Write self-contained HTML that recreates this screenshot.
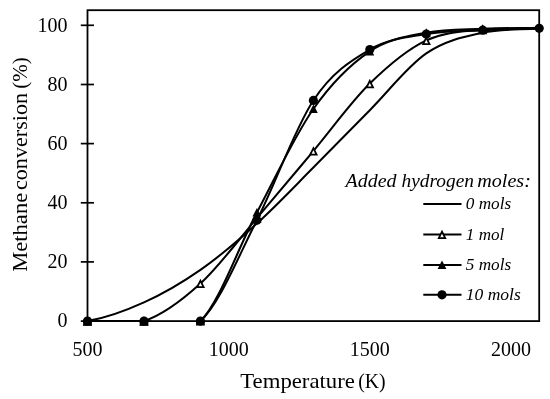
<!DOCTYPE html>
<html><head><meta charset="utf-8"><title>Methane conversion</title>
<style>
html,body{margin:0;padding:0;background:#fff;}
svg{display:block;}
text{font-family:"Liberation Serif",serif;fill:#000;}
.t{font-size:20.8px;}
.ax{font-size:20.4px;}
.lg{font-size:17.5px;font-style:italic;}
.lt{font-size:19.5px;font-style:italic;}
</style></head><body>
<svg width="550" height="399" viewBox="0 0 550 399">
<rect x="0" y="0" width="550" height="399" fill="#fff"/>
<rect x="87.5" y="10.2" width="451.7" height="310.9" fill="none" stroke="#000" stroke-width="1.8"/>
<line x1="80.8" x2="94" y1="321.1" y2="321.1" stroke="#000" stroke-width="1.7"/>
<text class="t" x="67.6" y="327.4" text-anchor="end" textLength="10.0" lengthAdjust="spacingAndGlyphs">0</text>
<line x1="80.8" x2="94" y1="261.9" y2="261.9" stroke="#000" stroke-width="1.7"/>
<text class="t" x="67.6" y="268.2" text-anchor="end" textLength="20.0" lengthAdjust="spacingAndGlyphs">20</text>
<line x1="80.8" x2="94" y1="202.8" y2="202.8" stroke="#000" stroke-width="1.7"/>
<text class="t" x="67.6" y="209.1" text-anchor="end" textLength="20.0" lengthAdjust="spacingAndGlyphs">40</text>
<line x1="80.8" x2="94" y1="143.6" y2="143.6" stroke="#000" stroke-width="1.7"/>
<text class="t" x="67.6" y="149.9" text-anchor="end" textLength="20.0" lengthAdjust="spacingAndGlyphs">60</text>
<line x1="80.8" x2="94" y1="84.5" y2="84.5" stroke="#000" stroke-width="1.7"/>
<text class="t" x="67.6" y="90.8" text-anchor="end" textLength="20.0" lengthAdjust="spacingAndGlyphs">80</text>
<line x1="80.8" x2="94" y1="25.3" y2="25.3" stroke="#000" stroke-width="1.7"/>
<text class="t" x="67.6" y="31.6" text-anchor="end" textLength="30.0" lengthAdjust="spacingAndGlyphs">100</text>
<text class="t" x="87.5" y="355.8" text-anchor="middle" textLength="30.0" lengthAdjust="spacingAndGlyphs">500</text>
<text class="t" x="228.7" y="355.8" text-anchor="middle" textLength="40.0" lengthAdjust="spacingAndGlyphs">1000</text>
<text class="t" x="369.8" y="355.8" text-anchor="middle" textLength="40.0" lengthAdjust="spacingAndGlyphs">1500</text>
<text class="t" x="511.0" y="355.8" text-anchor="middle" textLength="40.0" lengthAdjust="spacingAndGlyphs">2000</text>
<text class="ax" y="388.2"><tspan x="240.3" textLength="114.6" lengthAdjust="spacingAndGlyphs">Temperature</tspan> <tspan x="358.2" textLength="27.4" lengthAdjust="spacingAndGlyphs">(K)</tspan></text>
<text class="ax" transform="translate(26.8 271.8) rotate(-90)"><tspan x="0" textLength="79" lengthAdjust="spacingAndGlyphs">Methane</tspan> <tspan x="81.8" textLength="97" lengthAdjust="spacingAndGlyphs">conversion</tspan> <tspan x="183" textLength="31.5" lengthAdjust="spacingAndGlyphs">(%)</tspan></text>
<clipPath id="pc"><rect x="86.5" y="10.2" width="453.7" height="311.9"/></clipPath>
<path d="M87.50 321.10C106.32 317.99 125.14 310.99 143.96 302.46C162.78 293.94 181.60 283.09 200.43 269.93C219.25 256.76 238.07 240.54 256.89 223.49C275.71 206.43 294.53 186.46 313.35 167.58C332.17 148.70 350.99 129.22 369.81 110.19C388.63 91.16 407.45 66.32 426.27 53.40C445.10 40.48 463.92 36.84 482.74 32.70C501.56 28.55 520.38 29.93 539.20 28.55" clip-path="url(#pc)" fill="none" stroke="#000" stroke-width="2" stroke-linejoin="round"/>
<path d="M87.50 321.10C106.32 321.10 125.14 327.36 143.96 321.10C162.78 314.84 181.60 300.69 200.43 283.53C219.25 266.38 238.07 240.25 256.89 218.16C275.71 196.08 294.53 173.45 313.35 151.02C332.17 128.58 350.99 102.01 369.81 83.57C388.63 65.13 407.45 49.36 426.27 40.39C445.10 31.41 463.92 31.81 482.74 29.74C501.56 27.67 520.38 28.55 539.20 27.96" clip-path="url(#pc)" fill="none" stroke="#000" stroke-width="2" stroke-linejoin="round"/>
<path d="M87.50 321.10C106.32 321.10 125.14 321.10 143.96 321.10C162.78 321.10 181.60 339.19 200.43 321.10C219.25 303.01 238.07 247.89 256.89 212.54C275.71 177.19 294.53 135.88 313.35 109.01C332.17 82.14 350.99 64.05 369.81 51.33C388.63 38.61 407.45 36.44 426.27 32.70C445.10 28.95 463.92 29.69 482.74 28.85C501.56 28.01 520.38 28.06 539.20 27.67" clip-path="url(#pc)" fill="none" stroke="#000" stroke-width="2" stroke-linejoin="round"/>
<path d="M87.50 321.10C106.32 321.10 125.14 321.10 143.96 321.10C162.78 321.10 181.60 337.91 200.43 321.10C219.25 304.29 238.07 257.01 256.89 220.23C275.71 183.45 294.53 128.88 313.35 100.43C332.17 71.99 350.99 60.62 369.81 49.56C388.63 38.49 407.45 37.26 426.27 34.03C445.10 30.80 463.92 31.14 482.74 30.18C501.56 29.22 520.38 28.90 539.20 28.26" clip-path="url(#pc)" fill="none" stroke="#000" stroke-width="2" stroke-linejoin="round"/>
<path d="M87.5 318.3L90.7 324.8L84.3 324.8Z" fill="#fff" stroke="#000" stroke-width="1.8" stroke-linejoin="miter"/>
<path d="M144.0 318.3L147.2 324.8L140.8 324.8Z" fill="#fff" stroke="#000" stroke-width="1.8" stroke-linejoin="miter"/>
<path d="M200.4 280.7L203.6 287.2L197.2 287.2Z" fill="#fff" stroke="#000" stroke-width="1.8" stroke-linejoin="miter"/>
<path d="M256.9 215.4L260.1 221.9L253.7 221.9Z" fill="#fff" stroke="#000" stroke-width="1.8" stroke-linejoin="miter"/>
<path d="M313.4 148.2L316.6 154.7L310.2 154.7Z" fill="#fff" stroke="#000" stroke-width="1.8" stroke-linejoin="miter"/>
<path d="M369.8 80.8L373.0 87.3L366.6 87.3Z" fill="#fff" stroke="#000" stroke-width="1.8" stroke-linejoin="miter"/>
<path d="M426.3 37.6L429.5 44.1L423.1 44.1Z" fill="#fff" stroke="#000" stroke-width="1.8" stroke-linejoin="miter"/>
<path d="M482.7 26.9L485.9 33.4L479.5 33.4Z" fill="#fff" stroke="#000" stroke-width="1.8" stroke-linejoin="miter"/>
<path d="M87.5 316.6L91.9 325.2L83.1 325.2Z" fill="#000"/>
<path d="M144.0 316.6L148.4 325.2L139.6 325.2Z" fill="#000"/>
<path d="M200.4 316.6L204.8 325.2L196.0 325.2Z" fill="#000"/>
<path d="M256.9 208.0L261.3 216.6L252.5 216.6Z" fill="#000"/>
<path d="M313.4 104.5L317.8 113.1L309.0 113.1Z" fill="#000"/>
<path d="M369.8 46.8L374.2 55.4L365.4 55.4Z" fill="#000"/>
<path d="M426.3 28.2L430.7 36.8L421.9 36.8Z" fill="#000"/>
<path d="M482.7 24.3L487.1 32.9L478.3 32.9Z" fill="#000"/>
<circle cx="87.5" cy="321.1" r="4.6" fill="#000"/>
<circle cx="144.0" cy="321.1" r="4.6" fill="#000"/>
<circle cx="200.4" cy="321.1" r="4.6" fill="#000"/>
<circle cx="256.9" cy="220.2" r="4.6" fill="#000"/>
<circle cx="313.4" cy="100.4" r="4.6" fill="#000"/>
<circle cx="369.8" cy="49.6" r="4.6" fill="#000"/>
<circle cx="426.3" cy="34.0" r="4.6" fill="#000"/>
<circle cx="482.7" cy="30.2" r="4.6" fill="#000"/>
<circle cx="539.2" cy="28.3" r="4.6" fill="#000"/>
<rect x="83.2" y="321.1" width="8.6" height="4.3" fill="#000"/>
<rect x="139.7" y="321.1" width="8.6" height="4.3" fill="#000"/>
<rect x="196.1" y="321.1" width="8.6" height="4.3" fill="#000"/>
<text class="lt" y="187"><tspan x="345.5" textLength="51" lengthAdjust="spacingAndGlyphs">Added</tspan> <tspan x="401.6" textLength="72.4" lengthAdjust="spacingAndGlyphs">hydrogen</tspan> <tspan x="477.3" textLength="53.6" lengthAdjust="spacingAndGlyphs">moles:</tspan></text>
<line x1="423.3" x2="461.5" y1="203.9" y2="203.9" stroke="#000" stroke-width="2"/>
<text class="lg" x="465.8" y="209.3" textLength="45.4" lengthAdjust="spacingAndGlyphs">0 mols</text>
<line x1="423.3" x2="461.5" y1="234.5" y2="234.5" stroke="#000" stroke-width="2"/>
<path d="M442.0 231.7L445.2 238.2L438.8 238.2Z" fill="#fff" stroke="#000" stroke-width="1.8" stroke-linejoin="miter"/>
<text class="lg" x="465.8" y="239.9" textLength="38.5" lengthAdjust="spacingAndGlyphs">1 mol</text>
<line x1="423.3" x2="461.5" y1="265" y2="265" stroke="#000" stroke-width="2"/>
<path d="M442.0 260.5L446.4 269.1L437.6 269.1Z" fill="#000"/>
<text class="lg" x="465.8" y="270.4" textLength="45.4" lengthAdjust="spacingAndGlyphs">5 mols</text>
<line x1="423.3" x2="461.5" y1="294.8" y2="294.8" stroke="#000" stroke-width="2"/>
<circle cx="442.0" cy="294.8" r="4.6" fill="#000"/>
<text class="lg" x="465.8" y="300.2" textLength="55" lengthAdjust="spacingAndGlyphs">10 mols</text>
</svg></body></html>
